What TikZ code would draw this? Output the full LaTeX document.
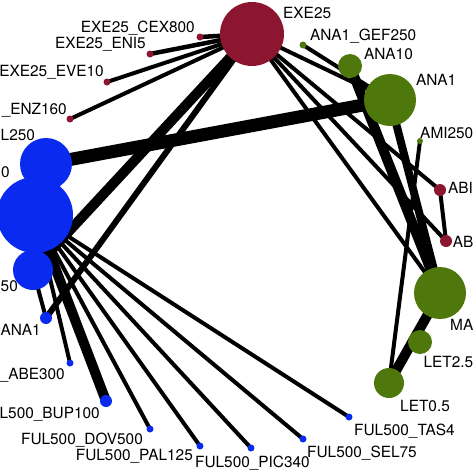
\documentclass[tikz,border=0pt]{standalone}
\usepackage{fontspec}
\setmainfont{TeX Gyre Heros}
\usetikzlibrary{backgrounds}
\definecolor{nred}{RGB}{140,22,48}
\definecolor{ngreen}{RGB}{78,120,12}
\definecolor{nblue}{RGB}{10,42,240}
\tikzset{
  rd/.style={circle,inner sep=0pt,fill=nred,minimum size=#1},
  gn/.style={circle,inner sep=0pt,fill=ngreen,minimum size=#1},
  bl/.style={circle,inner sep=0pt,fill=nblue,minimum size=#1},
  lab/.style={inner sep=0pt,font=\fontsize{15.4}{17}\selectfont,text=black},
  edgew/.style={draw=black,line width=#1},
}
\begin{document}
\begin{tikzpicture}[x=1pt,y=-1pt]
\useasboundingbox (0,0) rectangle (474,474);
\clip (0,0) rectangle (474,474);
% nodes
\node[rd=64pt] (EXE) at (252,34) {};
\node[rd=7pt] (CEX) at (200,37) {};
\node[rd=7pt] (ENI) at (150,54) {};
\node[rd=7pt] (EVE) at (107,82) {};
\node[rd=7pt] (ENZ) at (70,119) {};
\node[gn=7pt] (GEF) at (303,45) {};
\node[gn=24pt] (ANAten) at (350,66) {};
\node[gn=52pt] (ANAone) at (390,100) {};
\node[gn=6pt] (AMI) at (420,141) {};
\node[rd=12pt] (ABI) at (440,190) {};
\node[rd=12pt] (AB) at (446,241) {};
\node[gn=52pt] (MA) at (440,293) {};
\node[gn=24pt] (LETtwo) at (420,342) {};
\node[gn=30pt] (LETzero) at (389,383) {};
\node[bl=7pt] (TAS) at (349,417) {};
\node[bl=7pt] (SEL) at (303,439) {};
\node[bl=7pt] (PIC) at (251,448) {};
\node[bl=7pt] (PAL) at (200,446) {};
\node[bl=7pt] (DOV) at (150,429) {};
\node[bl=12pt] (BUP) at (106,401) {};
\node[bl=7pt] (ABE) at (70,363) {};
\node[bl=12pt] (FANA) at (46,318) {};
\node[bl=40pt] (FULlow) at (33,270) {};
\node[bl=76pt] (FULmid) at (35,215) {};
\node[bl=52pt] (FULup) at (46,164) {};
% edges
\begin{scope}[on background layer]
\draw[edgew=4.5pt] (EXE.center) -- (CEX.center);
\draw[edgew=4.5pt] (EXE.center) -- (ENI.center);
\draw[edgew=4pt] (EXE.center) -- (EVE.center);
\draw[edgew=4pt] (EXE.center) -- (ENZ.center);
\draw[edgew=10pt] (EXE.center) -- (FULlow.center);
\draw[edgew=6pt] (EXE.center) -- (FANA.center);
\draw[edgew=4pt] (EXE.center) -- (ANAone.center);
\draw[edgew=4pt] (EXE.center) -- (ABI.center);
\draw[edgew=4pt] (EXE.center) -- (AB.center);
\draw[edgew=4pt] (EXE.center) -- (MA.center);
\draw[edgew=4pt] (GEF.center) -- (ANAone.center);
\draw[edgew=13pt] (ANAone.center) -- (FULup.center);
\draw[edgew=10pt] (ANAten.center) -- (MA.center);
\draw[edgew=8pt] (ANAone.center) -- (MA.center);
\draw[edgew=4pt] (AMI.center) -- (LETzero.center);
\draw[edgew=4pt] (ABI.center) -- (AB.center);
\draw[edgew=10pt] (MA.center) -- (LETzero.center);
\draw[edgew=4pt] (FULmid.center) -- (TAS.center);
\draw[edgew=4pt] (FULmid.center) -- (SEL.center);
\draw[edgew=4pt] (FULmid.center) -- (PIC.center);
\draw[edgew=4pt] (FULmid.center) -- (PAL.center);
\draw[edgew=4pt] (FULmid.center) -- (DOV.center);
\draw[edgew=10pt] (FULmid.center) -- (BUP.center);
\draw[edgew=4pt] (FULmid.center) -- (ABE.center);
\draw[edgew=4pt] (FULlow.center) -- (FANA.center);
\end{scope}
% labels
\node[lab,anchor=base west] (lEXE) at (283,18.5) {EXE25};
\node[lab,anchor=base east] (lCEX) at (195,32.5) {EXE25\_CEX800};
\node[lab,anchor=base east] (lENI) at (146,48.5) {EXE25\_ENI5};
\node[lab,anchor=base east] (lEVE) at (104,76.5) {EXE25\_EVE10};
\node[lab,anchor=base east] (lENZ) at (67,114.5) {\_ENZ160};
\node[lab,anchor=base west] (lUp) at (0.5,140.5) {L250};
\node[lab,anchor=base east] (lMid) at (10,177.5) {0};
\node[lab,anchor=base west] (lLow) at (0.5,291.5) {50};
\node[lab,anchor=base west] (lFANA) at (0.5,335.5) {ANA1};
\node[lab,anchor=base east] (lABE) at (65,379.5) {\_ABE300};
\node[lab,anchor=base east] (lBUP) at (100,418.5) {L500\_BUP100};
\node[lab,anchor=base east] (lDOV) at (143,444) {FUL500\_DOV500};
\node[lab,anchor=base east] (lPAL) at (193,460.5) {FUL500\_PAL125};
\node[lab,anchor=base east] (lPIC) at (310,467.5) {FUL500\_PIC340};
\node[lab,anchor=base west] (lSEL) at (307,457) {FUL500\_SEL75};
\node[lab,anchor=base west] (lTAS) at (354,435.5) {FUL500\_TAS4};
\node[lab,anchor=base west] (lLETzero) at (400,411.5) {LET0.5};
\node[lab,anchor=base east] (lLETtwo) at (473.5,367.5) {LET2.5};
\node[lab,anchor=base east] (lMA) at (473.5,330.5) {MA};
\node[lab,anchor=base east] (lAB) at (473.5,247.5) {AB};
\node[lab,anchor=base west] (lABI) at (448,193.5) {ABI};
\node[lab,anchor=base east] (lAMI) at (473.5,138.5) {AMI250};
\node[lab,anchor=base west] (lANAone) at (416,85.5) {ANA1};
\node[lab,anchor=base west] (lANAten) at (364,59.5) {ANA10};
\node[lab,anchor=base west] (lGEF) at (310,40.5) {ANA1\_GEF250};
\end{tikzpicture}
\end{document}
